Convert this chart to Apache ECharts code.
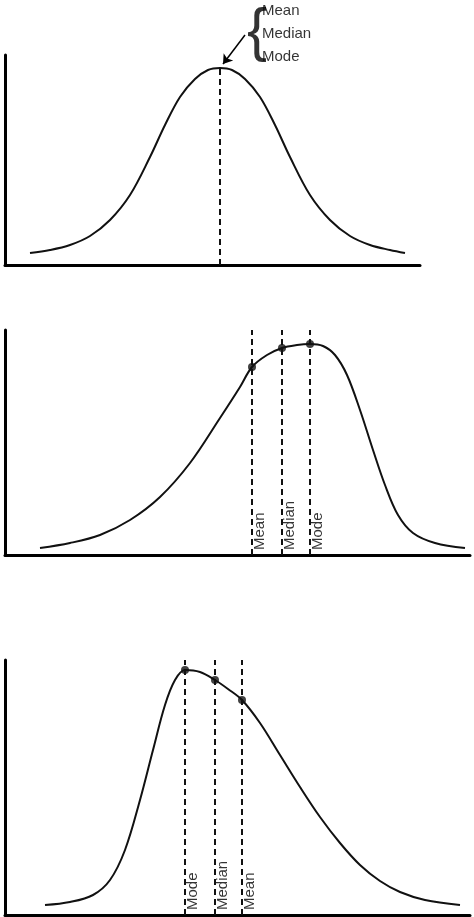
<!DOCTYPE html><html><head><meta charset="utf-8"><script src="https://cdn.jsdelivr.net/npm/echarts@6/dist/echarts.min.js"></script>
<style>html,body{margin:0;background:#fff}#c{width:474px;height:917px}</style></head><body><div id="c"></div><script>
// curves: [x, height] in panel-local units
const curve1=[[25,12],[45,15],[65,20],[85,29],[105,45],[125,70],[145,108],[160,140],[175,168],[190,186],[203,195],[215,197],[227,195],[240,186],[255,168],[270,140],[285,108],[305,70],[325,45],[345,29],[365,20],[385,15],[400,12]];
const curve2=[[35,7],[65,12],[95,20],[125,35],[155,58],[185,92],[215,137],[235,168],[247,188],[262,200],[277,207],[292,210],[305,211],[318,209],[330,200],[342,180],[355,145],[368,105],[380,70],[393,40],[408,22],[430,12],[460,7]];
const curve3=[[40,10],[65,13],[88,20],[105,35],[120,65],[135,115],[148,165],[160,210],[170,235],[180,245],[195,243],[210,235],[223,226],[237,215],[255,192],[275,160],[295,128],[315,98],[335,72],[355,50],[375,34],[395,23],[420,15],[455,10]];
const marks1=[{name:'Mean',x:215}];
const marks2=[{name:'Mean',x:247,y:188},{name:'Median',x:277,y:207},{name:'Mode',x:305,y:211}];
const marks3=[{name:'Mode',x:180,y:245},{name:'Median',x:210,y:235},{name:'Mean',x:237,y:215}];
const topLabels=['Mean','Median','Mode'];

const grids=[{left:5,top:55,width:415,height:210},{left:5,top:330,width:465,height:225},{left:5,top:660,width:465,height:255}];
const axLine={show:true,lineStyle:{color:'#000',width:3}};
const xA=grids.map((g,i)=>({type:'value',gridIndex:i,min:0,max:g.width,axisLine:axLine,axisTick:{show:false},axisLabel:{show:false},splitLine:{show:false}}));
const yA=grids.map((g,i)=>({type:'value',gridIndex:i,min:0,max:g.height,axisLine:axLine,axisTick:{show:false},axisLabel:{show:false},splitLine:{show:false}}));
const lbl={fontFamily:'Liberation Sans',fontSize:15,color:'#000',textBorderWidth:0};
const series=[];
[curve1,curve2,curve3].forEach((c,i)=>series.push({type:'line',xAxisIndex:i,yAxisIndex:i,data:c,smooth:0.35,showSymbol:false,lineStyle:{color:'#111',width:2}}));
function dashes(marks,i,top){marks.forEach(m=>series.push({type:'line',xAxisIndex:i,yAxisIndex:i,data:[[m.x,0],[m.x,top]],showSymbol:false,lineStyle:{color:'#111',width:2,type:[6,4]}}));}
dashes(marks1,0,197);dashes(marks2,1,225);dashes(marks3,2,255);
[[marks2,1],[marks3,2]].forEach(([ms,i])=>{
 series.push({type:'scatter',xAxisIndex:i,yAxisIndex:i,data:ms.map(m=>[m.x,m.y]),symbolSize:8,itemStyle:{color:'#111'}});
 series.push({type:'scatter',xAxisIndex:i,yAxisIndex:i,data:ms.map(m=>({value:[m.x+8,5],name:m.name})),symbolSize:0,itemStyle:{color:'#000'},
  label:Object.assign({show:true,rotate:90,position:'inside',align:'left',verticalAlign:'middle',formatter:'{b}'},lbl)});
});
series.push({type:'scatter',xAxisIndex:0,yAxisIndex:0,clip:false,symbolSize:0,itemStyle:{color:'#000'},data:topLabels.map((t,k)=>({value:[257,254-k*23],name:t})),
 label:Object.assign({show:true,position:'inside',align:'left',formatter:'{b}'},lbl)});
series.push({type:'scatter',xAxisIndex:0,yAxisIndex:0,clip:false,symbolSize:0,itemStyle:{color:'#000'},data:[{value:[252,232],name:'{'}],
 label:Object.assign({},lbl,{show:true,position:'inside',formatter:'{b}',fontSize:60,color:'#000'})});
series.push({type:'lines',coordinateSystem:'cartesian2d',xAxisIndex:0,yAxisIndex:0,clip:false,symbol:['none','arrow'],symbolSize:9,
 data:[{coords:[[240,230],[218,201]]}],lineStyle:{color:'#000',width:1.5,opacity:1}});
const chart=echarts.init(document.getElementById('c'));
chart.setOption({animation:false,grid:grids,xAxis:xA,yAxis:yA,series});
</script></body></html>
